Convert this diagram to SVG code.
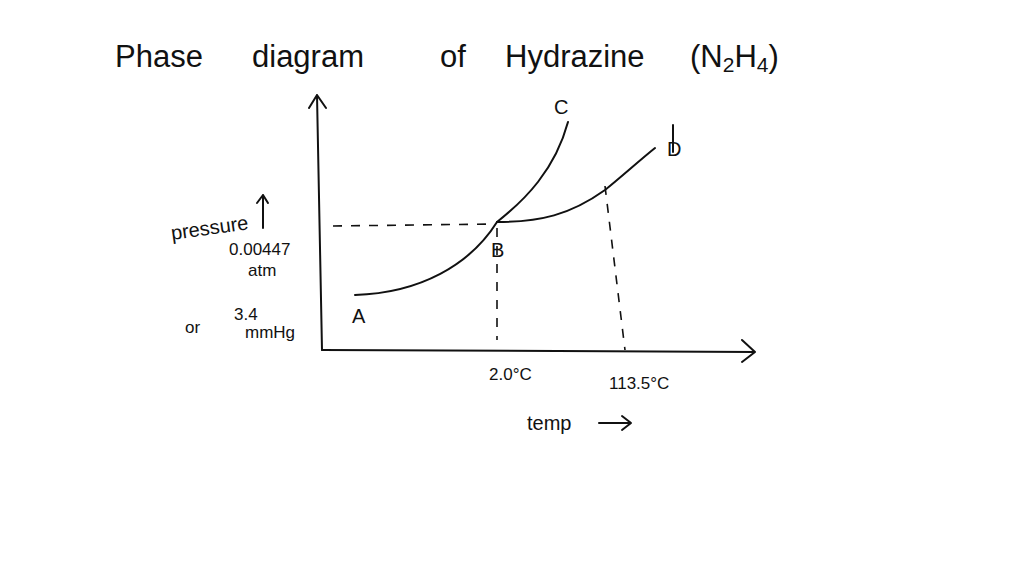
<svg xmlns="http://www.w3.org/2000/svg" width="1024" height="576" viewBox="0 0 1024 576">
<style>
.ln{fill:none;stroke:#111;stroke-width:2;stroke-linecap:round;stroke-linejoin:round}
.ds{fill:none;stroke:#111;stroke-width:1.6;stroke-dasharray:9 9}
text{font-family:"Liberation Sans",Arial,sans-serif;fill:#111}
.t{font-size:31px}
.s{font-size:17px}
.m{font-size:20px}
</style>
<rect width="1024" height="576" fill="#fff"/>
<g id="title">
<text class="t" x="115" y="67">Phase</text>
<text class="t" x="252" y="67">diagram</text>
<text class="t" x="440" y="67">of</text>
<text class="t" x="505" y="67">Hydrazine</text>
<text class="t" x="690" y="67" font-size="33">(N<tspan font-size="21" dy="5">2</tspan><tspan dy="-5">H</tspan><tspan font-size="21" dy="5">4</tspan><tspan dy="-5">)</tspan></text>
</g>
<g id="axes">
<path class="ln" d="M322,350 L317,95 M309,108 L317,95 L326,108"/>
<path class="ln" d="M322,350 L755,352 M742,340 L755,352 L742,362"/>
</g>
<g id="connectors">
<path class="ds" d="M333,226 L495,224"/>
<path class="ds" d="M497,228 L497,340"/>
<path class="ds" d="M605,186 L625,350"/>
</g>
<g id="curves">
<path class="ln" d="M355,295 C420,293 470,265 497,222"/>
<path class="ln" d="M497,222 C525,200 555,170 568,122"/>
<path class="ln" d="M497,222 C540,222 570,215 605,190 C620,178 640,160 655,148"/>
</g>
<g id="labels">
<text class="m" x="352" y="323">A</text>
<text class="m" x="491" y="257">B</text>
<text class="m" x="554" y="114">C</text>
<text class="m" x="667" y="156">D</text>
<path class="ln" d="M673,125 L673,152"/>
<text class="m" x="172" y="240" transform="rotate(-8 172 240)">pressure</text>
<path class="ln" d="M263,228 L263,195 M257,203 L263,195 L268,203"/>
<text class="s" x="229" y="255">0.00447</text>
<text class="s" x="248" y="276">atm</text>
<text class="s" x="185" y="333">or</text>
<text class="s" x="234" y="320">3.4</text>
<text class="s" x="245" y="338">mmHg</text>
<text class="s" x="489" y="380">2.0°C</text>
<text class="s" x="609" y="389">113.5°C</text>
<text class="m" x="527" y="430">temp</text>
<path class="ln" d="M599,423 L630,423 M622,416 L631,423 L622,430"/>
</g>
</svg>
